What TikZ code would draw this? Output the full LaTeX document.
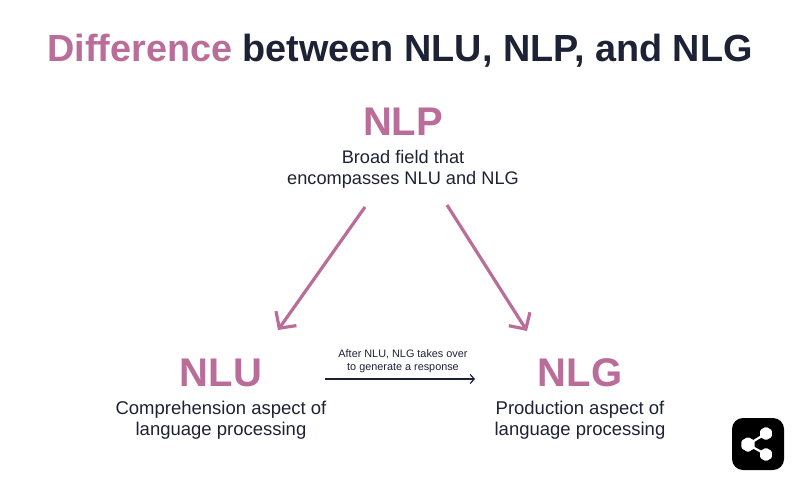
\documentclass[tikz,border=0pt]{standalone}
\usepackage{fontspec}
\setmainfont{Liberation Sans}
\usetikzlibrary{arrows.meta}
\definecolor{pinkc}{HTML}{B96D98}
\definecolor{inkc}{HTML}{1E2235}
\tikzset{
  head/.style={inner sep=0pt,text=pinkc,font=\fontsize{40}{46}\selectfont\bfseries},
  body/.style={inner sep=0pt,text=inkc,align=center,font=\fontsize{18.5}{20.5}\selectfont},
  small/.style={inner sep=0pt,text=inkc,align=center,font=\fontsize{10.85}{13.5}\selectfont},
  pinkarrow/.style={draw=pinkc,line width=3.2pt,-{Straight Barb[length=12pt,width=25pt,line width=3.2pt]}},
  blackarrow/.style={draw=inkc,line width=1.2pt,-{Straight Barb[length=4pt,width=9pt,line width=1.2pt]}}
}
\begin{document}
\begin{tikzpicture}[x=1pt,y=-1pt]
\useasboundingbox (0,0) rectangle (800,484);
\fill[white] (0,0) rectangle (800,484);
\node[inner sep=0pt,anchor=center,font=\fontsize{37.8}{40}\selectfont\bfseries,text=inkc] (title) at (400,51) {\textcolor{pinkc}{Difference} between NLU, NLP, and NLG};
\node[head] (nlp) at (403,122) {NLP};
\node[body,font=\fontsize{18.2}{20.5}\selectfont] (nlpd) at (403,169.5) {Broad field that\\encompasses NLU and NLG};
\node[head] (nlu) at (221,373) {NLU};
\node[body] (nlud) at (221,420) {Comprehension aspect of\\language processing};
\node[head] (nlg) at (580,373) {NLG};
\node[body] (nlgd) at (580,420) {Production aspect of\\language processing};
\node[small] (lbl) at (403,361) {After NLU, NLG takes over\\to generate a response};
\coordinate (a1) at (365,207); \coordinate (a2) at (278,330);
\coordinate (b1) at (447,205); \coordinate (b2) at (527,331);
\coordinate (c1) at (325,379); \coordinate (c2) at (475,379);
\draw[pinkarrow] (a1) -- (a2);
\draw[pinkarrow] (b1) -- (b2);
\draw[blackarrow] (c1) -- (c2);
% share badge
\fill[black,rounded corners=11pt] (732,418) rectangle (784,470);
\coordinate (s1) at (748,444.5); \coordinate (s2) at (766,433.5); \coordinate (s3) at (766,454.5);
\draw[white,line width=2.2pt] (s2) -- (s1) -- (s3);
\foreach \p/\r in {s1/7.6,s2/6.8,s3/6.8}{
  \fill[white,rounded corners=1.2pt] (\p) ++(90:\r) -- ++(-30:\r) -- ++(-90:\r) -- ++(-150:\r) -- ++(150:\r) -- ++(90:\r) -- cycle;
}
\end{tikzpicture}
\end{document}
